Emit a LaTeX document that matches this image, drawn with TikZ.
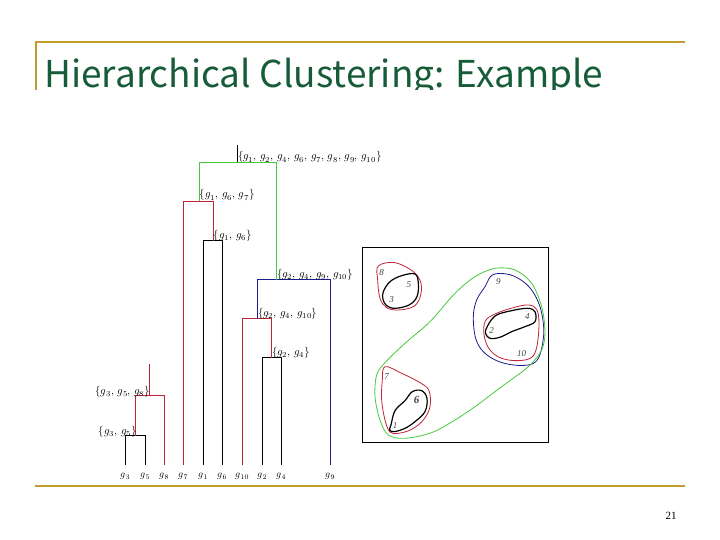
\documentclass[tikz,border=0pt]{standalone}
\usepackage{fontspec}
\newfontfamily\titlefont{Noto Sans CJK JP}
\setmainfont{Liberation Serif}
\usepackage{unicode-math}
\definecolor{titlegreen}{RGB}{22,92,56}
\definecolor{gold}{RGB}{192,158,42}
\definecolor{lgreen}{RGB}{70,200,60}
\definecolor{dred}{RGB}{190,35,55}
\definecolor{dblue}{RGB}{28,28,140}
\tikzset{
  dend/.style={line width=1pt},
  reddend/.style={line width=1.1pt, draw=dred},
  setlab/.style={inner sep=0pt, font=\fontsize{11}{13}\selectfont},
  leaflab/.style={inner sep=0pt, anchor=base, font=\fontsize{10}{11}\selectfont},
  ptlab/.style={inner sep=0pt, font=\fontsize{9}{10}\selectfont\itshape, text=black!75},
  contour/.style={line width=0.8pt},
}
\begin{document}
\begin{tikzpicture}[x=1pt,y=-1pt]
\useasboundingbox (0,0) rectangle (720,540);
% frame lines
\draw[gold, line width=2.5pt] (35,42) -- (685,42);
\draw[gold, line width=2pt] (36,42) -- (36,90);
\draw[gold, line width=2.5pt] (35,486) -- (685,486);
\begin{scope}
\clip (38,44) rectangle (700,90);
\node[anchor=base west, inner sep=0pt, text=titlegreen, font=\titlefont\fontsize{37}{40}\selectfont] (title) at (44,88) {Hierarchical Clustering: Example};
\end{scope}
\node[inner sep=0pt, font=\fontsize{11}{12}\selectfont] (pg) at (671,516) {21};

% ---- dendrogram ----
\foreach \n/\x in {3/125.5,5/145.5,8/164.5,7/183.5,1/203.5,6/222.5,10/242.5,2/262.5,4/281.5,9/330.5}
  \coordinate (l\n) at (\x,465);
% black leaves
\draw[dend] (l3) -- (125.5,435.5) -- (145.5,435.5) -- (l5)
  (l1) -- (203.5,240.5) -- (222.5,240.5) -- (l6)
  (l2) -- (262.5,357.5) -- (281.5,357.5) -- (l4)
  (237.5,162.5) -- (237.5,145);
% red
\path[reddend] (135.5,435.5) -- (135.5,395.5) -- (164.5,395.5) -- (l8)
  (149.5,395.5) -- (149.5,364)
  (l7) -- (183.5,201.5) -- (213.5,201.5) -- (213.5,240.5)
  (l10) -- (242.5,318.5) -- (271.5,318.5) -- (271.5,357.5);
% blue
\path[dend, draw=dblue] (257.5,318.5) -- (257.5,279.5) -- (330.5,279.5) -- (l9);
% green
\path[dend, draw=lgreen] (199.5,201.5) -- (199.5,162.5) -- (276.5,162.5) -- (276.5,279.5);

% set labels
\node[setlab, anchor=base west] (s0) at (238,160) {$\{g_1,\,g_2,\,g_4,\,g_6,\,g_7,\,g_8,\,g_9,\,g_{10}\}$};
\node[setlab, anchor=base west] (s1) at (199.5,198) {$\{g_1,\,g_6,\,g_7\}$};
\node[setlab, anchor=base west] (s2) at (213.5,238) {$\{g_1,\,g_6\}$};
\node[setlab, anchor=base west] (s3) at (277,277) {$\{g_2,\,g_4,\,g_9,\,g_{10}\}$};
\node[setlab, anchor=base west] (s4) at (258,316) {$\{g_2,\,g_4,\,g_{10}\}$};
\node[setlab, anchor=base west] (s5) at (272,355) {$\{g_2,\,g_4\}$};
\node[setlab, anchor=base east] (s6) at (150.5,394) {$\{g_3,\,g_5,\,g_8\}$};
\node[setlab, anchor=base east] (s7) at (137,434) {$\{g_3,\,g_5\}$};

% leaf labels
\foreach \n/\x in {3/125.5,5/145.5,8/164.5,7/183.5,1/203.5,6/222.5,10/242.5,2/262.5,4/281.5,9/330.5}
  \node[leaflab] (t\n) at (\x,477) {$g_{\n}$};

% ---- cluster panel ----
\begin{scope}[shift={(355,240)}, x=0.3333pt, y=-0.3333pt]
\draw[line width=1.5pt] (22,22) rectangle (580,608);
% cluster 8,5,3
\draw[contour, dred] plot[smooth cycle, tension=0.6] coordinates {(70,78) (120,68) (175,95) (198,130) (195,172) (175,200) (130,210) (95,203) (75,175) (68,120)};
\draw[contour, line width=1.2pt] plot[smooth cycle, tension=0.6] coordinates {(85,155) (105,125) (140,107) (180,102) (190,130) (186,170) (162,195) (120,205) (95,197) (84,178)};
% right cluster
\draw[contour, dblue] plot[smooth cycle, tension=0.6] coordinates {(412,105) (390,140) (365,180) (355,230) (362,295) (385,335) (425,362) (475,375) (525,374) (550,355) (563,310) (566,260) (555,200) (530,150) (495,118) (455,102)};
\draw[contour, dred] plot[smooth cycle, tension=0.6] coordinates {(390,245) (420,222) (475,203) (520,195) (545,208) (552,250) (546,318) (530,352) (490,362) (440,355) (405,330) (388,290)};
\draw[contour, line width=1.2pt] plot[smooth cycle, tension=0.6] coordinates {(393,268) (420,228) (470,212) (518,205) (540,215) (540,245) (510,260) (470,275) (440,290) (410,296) (395,287)};
% big green
\draw[contour, lgreen] plot[smooth cycle, tension=0.55] coordinates {(90,368) (150,310) (225,245) (300,160) (360,110) (420,85) (480,90) (530,130) (560,200) (570,275) (560,330) (520,380) (440,440) (360,500) (300,540) (230,578) (150,595) (100,585) (75,540) (60,470) (65,405)};
% cluster 7,6,1
\draw[contour, dred] plot[smooth cycle, tension=0.6] coordinates {(90,380) (140,400) (195,428) (222,452) (225,500) (205,540) (170,568) (130,580) (105,576) (90,540) (80,480) (82,420)};
\draw[contour, line width=1.2pt] plot[smooth cycle, tension=0.6] coordinates {(108,555) (120,512) (150,482) (172,455) (200,452) (216,475) (210,515) (180,545) (150,565) (118,575) (104,570)};
% point labels
\node[ptlab] (p8) at (80,97) {8};
\node[ptlab] (p5) at (162,135) {5};
\node[ptlab] (p3) at (110,180) {3};
\node[ptlab] (p9) at (430,125) {9};
\node[ptlab] (p4) at (517,230) {4};
\node[ptlab] (p2) at (410,272) {2};
\node[ptlab] (p10) at (500,340) {10};
\node[ptlab] (p7) at (95,410) {7};
\node[ptlab, font=\fontsize{11}{12}\selectfont\bfseries\itshape] (p6) at (185,480) {6};
\node[ptlab] (p1) at (120,558) {1};
\end{scope}
\end{tikzpicture}
\end{document}
